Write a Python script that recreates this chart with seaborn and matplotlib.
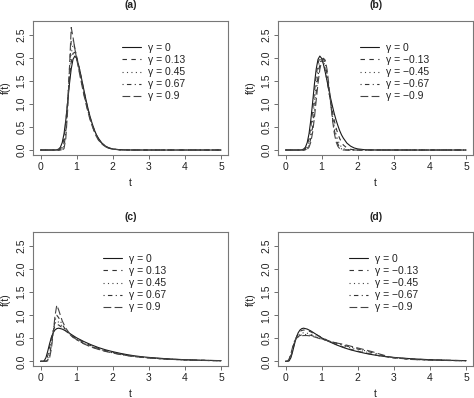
import matplotlib
matplotlib.use("Agg")
import matplotlib.pyplot as plt
import seaborn as sns

# ---------------------------
# Data
# ---------------------------
t_ab = [0.0, 0.4, 0.45, 0.5, 0.55, 0.6, 0.65, 0.7, 0.75, 0.8, 0.85, 0.9, 0.95,
        1.0, 1.05, 1.1, 1.15, 1.2, 1.25, 1.3, 1.35, 1.4, 1.45, 1.5, 1.55, 1.6,
        1.7, 1.8, 1.9, 2.0, 2.2, 2.5, 3.0, 4.0, 5.0]

f_a_0 = [0, 0, 0.005, 0.02, 0.06, 0.16, 0.35, 0.65, 1.03, 1.43, 1.76, 1.97, 2.04,
         1.99, 1.86, 1.69, 1.5, 1.31, 1.12, 0.95, 0.79, 0.65, 0.53, 0.42, 0.33, 0.26,
         0.15, 0.085, 0.045, 0.024, 0.006, 0.001, 0, 0, 0]
f_a_013 = [0, 0, 0, 0, 0.02, 0.08, 0.25, 0.6, 1.05, 1.52, 1.9, 2.1, 2.12,
           2.02, 1.86, 1.68, 1.48, 1.29, 1.1, 0.93, 0.78, 0.64, 0.52, 0.41, 0.32, 0.25,
           0.145, 0.08, 0.043, 0.022, 0.005, 0, 0, 0, 0]
f_a_045 = [0, 0, 0, 0, 0.005, 0.03, 0.15, 0.5, 1.05, 1.65, 2.1, 2.28, 2.2,
           2.03, 1.84, 1.65, 1.45, 1.26, 1.08, 0.91, 0.76, 0.62, 0.5, 0.4, 0.31, 0.24,
           0.14, 0.077, 0.04, 0.02, 0.005, 0, 0, 0, 0]
f_a_067 = [0, 0, 0, 0, 0, 0.01, 0.08, 0.38, 0.98, 1.75, 2.38, 2.4, 2.22,
           2.02, 1.82, 1.62, 1.42, 1.23, 1.05, 0.89, 0.74, 0.6, 0.49, 0.39, 0.3, 0.23,
           0.135, 0.074, 0.038, 0.019, 0.004, 0, 0, 0, 0]
f_a_09 = [0, 0, 0, 0, 0, 0, 0.03, 0.25, 0.85, 1.75, 2.66, 2.45, 2.2,
          1.98, 1.78, 1.58, 1.39, 1.2, 1.03, 0.87, 0.72, 0.59, 0.48, 0.38, 0.29, 0.22,
          0.13, 0.07, 0.036, 0.018, 0.004, 0, 0, 0, 0]

f_b_013 = [0, 0, 0, 0.005, 0.03, 0.1, 0.25, 0.5, 0.85, 1.25, 1.62, 1.88, 2.01,
           2.01, 1.9, 1.72, 1.5, 1.27, 1.04, 0.83, 0.64, 0.48, 0.35, 0.25, 0.17, 0.11,
           0.045, 0.016, 0.005, 0.001, 0, 0, 0, 0, 0]
f_b_045 = [0, 0, 0, 0, 0.01, 0.05, 0.15, 0.35, 0.65, 1.02, 1.42, 1.75, 1.95,
           2.0, 1.95, 1.78, 1.55, 1.28, 1.0, 0.74, 0.52, 0.34, 0.21, 0.12, 0.065, 0.03,
           0.005, 0, 0, 0, 0, 0, 0, 0, 0]
f_b_067 = [0, 0, 0, 0, 0.005, 0.03, 0.1, 0.25, 0.5, 0.85, 1.25, 1.6, 1.86,
           1.98, 1.99, 1.88, 1.65, 1.35, 1.02, 0.7, 0.44, 0.25, 0.13, 0.06, 0.025, 0.01,
           0, 0, 0, 0, 0, 0, 0, 0, 0]
f_b_09 = [0, 0, 0, 0, 0, 0.015, 0.06, 0.17, 0.38, 0.7, 1.08, 1.45, 1.75,
          1.93, 1.99, 1.95, 1.75, 1.42, 1.03, 0.66, 0.37, 0.18, 0.08, 0.03, 0.01, 0,
          0, 0, 0, 0, 0, 0, 0, 0, 0]

t_cd = [0.0, 0.05, 0.1, 0.15, 0.2, 0.25, 0.3, 0.35, 0.4, 0.45, 0.5, 0.6, 0.7,
        0.8, 0.9, 1.0, 1.2, 1.4, 1.6, 1.8, 2.0, 2.2, 2.4, 2.6, 2.8, 3.0, 3.5,
        4.0, 4.5, 5.0]

f_c_0 = [0, 0, 0.01, 0.08, 0.22, 0.38, 0.52, 0.62, 0.68, 0.71, 0.72, 0.7, 0.66,
         0.61, 0.56, 0.51, 0.43, 0.36, 0.3, 0.25, 0.21, 0.175, 0.145, 0.12, 0.1, 0.085, 0.055,
         0.035, 0.023, 0.015]
f_c_013 = [0, 0, 0, 0.03, 0.12, 0.3, 0.5, 0.66, 0.76, 0.8, 0.79, 0.73, 0.66,
           0.6, 0.54, 0.49, 0.41, 0.34, 0.28, 0.235, 0.195, 0.16, 0.135, 0.11, 0.092, 0.078, 0.05,
           0.032, 0.021, 0.014]
f_c_045 = [0, 0, 0, 0.01, 0.06, 0.2, 0.42, 0.65, 0.82, 0.88, 0.85, 0.76, 0.67,
           0.59, 0.53, 0.48, 0.39, 0.33, 0.27, 0.225, 0.19, 0.155, 0.13, 0.107, 0.09, 0.075, 0.048,
           0.031, 0.02, 0.013]
f_c_067 = [0, 0, 0, 0, 0.03, 0.13, 0.35, 0.64, 0.88, 1.0, 0.95, 0.8, 0.68,
           0.59, 0.52, 0.47, 0.385, 0.32, 0.265, 0.22, 0.185, 0.152, 0.127, 0.105, 0.088, 0.074, 0.047,
           0.03, 0.02, 0.013]
f_c_09 = [0, 0, 0, 0, 0.01, 0.07, 0.27, 0.6, 0.98, 1.22, 1.12, 0.88, 0.72,
          0.61, 0.53, 0.47, 0.38, 0.31, 0.26, 0.215, 0.18, 0.15, 0.125, 0.103, 0.086, 0.072, 0.046,
          0.03, 0.019, 0.012]

f_d_013 = [0, 0, 0.02, 0.1, 0.25, 0.4, 0.52, 0.6, 0.65, 0.67, 0.68, 0.67, 0.64,
           0.6, 0.56, 0.52, 0.44, 0.37, 0.31, 0.26, 0.22, 0.18, 0.15, 0.12, 0.1, 0.08, 0.05,
           0.033, 0.022, 0.014]
f_d_045 = [0, 0, 0.03, 0.13, 0.28, 0.42, 0.51, 0.56, 0.6, 0.61, 0.62, 0.61, 0.59,
           0.56, 0.53, 0.5, 0.44, 0.39, 0.34, 0.29, 0.25, 0.21, 0.17, 0.13, 0.1, 0.075, 0.045,
           0.03, 0.02, 0.013]
f_d_067 = [0, 0, 0.04, 0.15, 0.3, 0.43, 0.5, 0.54, 0.56, 0.575, 0.58, 0.58, 0.565,
           0.54, 0.515, 0.49, 0.44, 0.4, 0.35, 0.31, 0.27, 0.23, 0.19, 0.145, 0.105, 0.075, 0.042,
           0.028, 0.019, 0.012]
f_d_09 = [0, 0, 0.05, 0.17, 0.32, 0.44, 0.5, 0.53, 0.545, 0.555, 0.56, 0.56, 0.55,
          0.53, 0.505, 0.48, 0.44, 0.4, 0.37, 0.33, 0.29, 0.25, 0.21, 0.16, 0.115, 0.078, 0.04,
          0.027, 0.018, 0.012]

labels_pos = ["γ = 0", "γ = 0.13", "γ = 0.45", "γ = 0.67", "γ = 0.9"]
labels_neg = ["γ = 0", "γ = \u22120.13", "γ = \u22120.45", "γ = \u22120.67", "γ = \u22120.9"]

# R lty 1..5 : solid, dashed, dotted, dotdash, longdash
line_styles = ["-", (0, (4, 4)), (0, (1, 3)), (0, (1, 3, 4, 3)), (0, (7, 3))]
line_colors = ["#1a1a1a", "#333333", "#444444", "#333333", "#444444"]

panels = [
    ("(a)", t_ab, [f_a_0, f_a_013, f_a_045, f_a_067, f_a_09], labels_pos),
    ("(b)", t_ab, [f_a_0, f_b_013, f_b_045, f_b_067, f_b_09], labels_neg),
    ("(c)", t_cd, [f_c_0, f_c_013, f_c_045, f_c_067, f_c_09], labels_pos),
    ("(d)", t_cd, [f_c_0, f_d_013, f_d_045, f_d_067, f_d_09], labels_neg),
]

# ---------------------------
# Style
# ---------------------------
sns.set_style("white")
plt.rcParams['font.family'] = ['Liberation Sans', 'DejaVu Sans']
plt.rcParams['font.size'] = 7.5
plt.rcParams['text.color'] = '#222222'
plt.rcParams['axes.labelcolor'] = '#222222'
plt.rcParams['xtick.color'] = '#555555'
plt.rcParams['ytick.color'] = '#555555'
plt.rcParams['xtick.labelcolor'] = '#222222'
plt.rcParams['ytick.labelcolor'] = '#222222'

W, H = 474, 398
fig = plt.figure(figsize=(W / 100, H / 100), dpi=100)

# axes boxes in pixels: left, top, width, height
boxes = [(33.3, 20.7, 195, 134.3), (278.3, 20.7, 195, 134.3),
         (33.3, 232.0, 195, 134.3), (278.3, 232.0, 195, 134.3)]
legend_pos = [(122, 43), (360, 43), (103, 254), (349, 254)]

for (title, t, curves, labels), (l, tp, w, h), (lx, ly) in zip(panels, boxes, legend_pos):
    ax = fig.add_axes([l / W, 1 - (tp + h) / H, w / W, h / H])
    for f, lab, ls, col in zip(curves, labels, line_styles, line_colors):
        sns.lineplot(x=t, y=f, ax=ax, color=col, linestyle=ls, linewidth=0.8,
                     label=lab)
    ax.set_xlim(-0.2, 5.2)
    ax.set_ylim(-0.108, 2.808)
    ax.set_xticks([0, 1, 2, 3, 4, 5])
    ax.set_yticks([0, 0.5, 1.0, 1.5, 2.0, 2.5])
    ax.set_yticklabels(["0.0", "0.5", "1.0", "1.5", "2.0", "2.5"], rotation=90,
                       va="center")
    ax.tick_params(direction="out", length=3, width=0.6, pad=2,
                   labelsize=7.5, bottom=True, left=True)
    for s in ax.spines.values():
        s.set_color("#777777")
        s.set_linewidth(0.8)
    ax.set_xlabel("t", labelpad=4)
    ax.set_ylabel("f(t)", labelpad=4)
    ax.set_title(title, fontweight="bold", fontsize=7.5, pad=9)
    ax.legend(loc="upper left", bbox_to_anchor=((lx - l) / w, 1 - (ly - tp) / h),
              frameon=False, fontsize=7.5, handlelength=1.8, handletextpad=0.7,
              labelspacing=0.2, borderaxespad=0, borderpad=0)

fig.savefig("out.png", dpi=100)
